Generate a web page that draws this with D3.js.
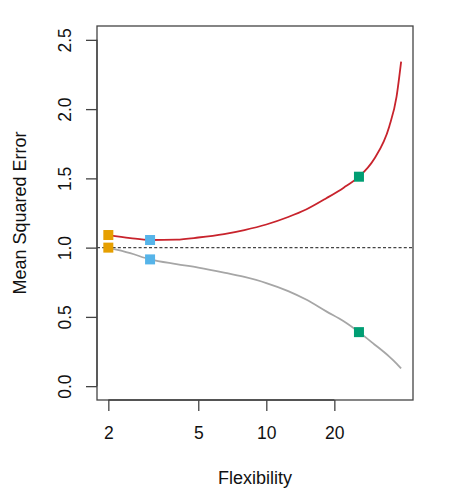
<!DOCTYPE html>
<html>
<head>
<meta charset="utf-8">
<script src="https://cdn.jsdelivr.net/npm/d3@7"></script>
<style>
  body { margin: 0; background: #fff; }
  svg { font-family: 'Liberation Sans', Arial, sans-serif; }
</style>
</head>
<body>
<div id="chart"></div>
<script>
// flexibility grid (log scale on x)
const flex = [2, 2.5, 3.06, 4, 5, 6.5, 8, 10, 12.5, 15, 18.5, 22, 25.7, 30, 35, 37.7, 39.5]
// test MSE (red) and training MSE (grey)
const testMSE = [1.091, 1.069, 1.055, 1.058, 1.073, 1.098, 1.127, 1.167, 1.221, 1.275, 1.358, 1.433, 1.512, 1.64, 1.875, 2.09, 2.343]
const trainMSE = [1.0, 0.96, 0.915, 0.881, 0.856, 0.82, 0.788, 0.744, 0.686, 0.625, 0.538, 0.468, 0.39, 0.303, 0.213, 0.163, 0.128]
// highlighted fits
const markFlex = [2, 3.06, 25.7]
const markTest = [1.091, 1.055, 1.512]
const markTrain = [1.0, 0.915, 0.39]
const markColors = ['#E69F00', '#56B4E9', '#009E73']
const irreducible = 1.0

const xTicks = [2, 5, 10, 20]
const yTicks = [0, 0.5, 1, 1.5, 2, 2.5]

const w = 474
const h = 500
const box = { left: 97, right: 413, top: 26, bottom: 400 }

const svg = d3.select('#chart').append('svg')
  .attr('width', w)
  .attr('height', h)

const x = d3.scaleLog().domain([1.782, 44.57]).range([box.left, box.right])
const y = d3.scaleLinear().domain([-0.1, 2.6]).range([box.bottom, box.top])

const line = d3.line()
  .x(d => x(d[0]))
  .y(d => y(d[1]))
  .curve(d3.curveMonotoneX)

// dashed irreducible error line
svg.append('line')
  .attr('x1', box.left).attr('x2', box.right)
  .attr('y1', y(irreducible)).attr('y2', y(irreducible))
  .attr('stroke', '#444')
  .attr('stroke-width', 1.3)
  .attr('stroke-dasharray', '3,2.2')

svg.append('path')
  .datum(flex.map((f, i) => [f, trainMSE[i]]))
  .attr('d', line)
  .attr('fill', 'none')
  .attr('stroke', '#A6A6A6')
  .attr('stroke-width', 1.8)

svg.append('path')
  .datum(flex.map((f, i) => [f, testMSE[i]]))
  .attr('d', line)
  .attr('fill', 'none')
  .attr('stroke', '#C8232C')
  .attr('stroke-width', 1.8)

const sq = 10
const marks = markFlex.flatMap((f, i) => [
  { f: f, v: markTest[i], c: markColors[i] },
  { f: f, v: markTrain[i], c: markColors[i] }
])
svg.selectAll('rect.mark')
  .data(marks)
  .enter().append('rect')
  .attr('class', 'mark')
  .attr('x', d => x(d.f) - sq / 2)
  .attr('y', d => y(d.v) - sq / 2)
  .attr('width', sq)
  .attr('height', sq)
  .attr('fill', d => d.c)

// box
svg.append('rect')
  .attr('x', box.left).attr('y', box.top)
  .attr('width', box.right - box.left)
  .attr('height', box.bottom - box.top)
  .attr('fill', 'none')
  .attr('stroke', '#444')
  .attr('stroke-width', 1.3)

// y axis
const gy = svg.append('g')
  .attr('transform', 'translate(' + box.left + ',0)')
  .call(d3.axisLeft(y).tickValues(yTicks).tickFormat(d3.format('.1f')).tickSize(11).tickSizeOuter(0))
gy.select('.domain').attr('d', 'M0,' + y(0) + 'V' + y(2.5)).attr('stroke', '#444').attr('stroke-width', 1.3)
gy.selectAll('.tick line').attr('stroke', '#444').attr('stroke-width', 1.3)
gy.selectAll('.tick text')
  .attr('x', null)
  .attr('dy', null)
  .attr('transform', 'translate(-26,0) rotate(-90)')
  .attr('text-anchor', 'middle')
  .attr('font-size', 17.5)
  .attr('font-family', null)
  .attr('fill', '#111')

// x axis
const gx = svg.append('g')
  .attr('transform', 'translate(0,' + box.bottom + ')')
  .call(d3.axisBottom(x).tickValues(xTicks).tickFormat(d3.format('d')).tickSize(11).tickSizeOuter(0))
gx.select('.domain').attr('d', 'M' + x(2) + ',0H' + x(20)).attr('stroke', '#444').attr('stroke-width', 1.3)
gx.selectAll('.tick line').attr('stroke', '#444').attr('stroke-width', 1.3)
gx.selectAll('.tick text')
  .attr('y', 39.3)
  .attr('dy', null)
  .attr('font-size', 17.5)
  .attr('font-family', null)
  .attr('fill', '#111')

svg.append('text')
  .attr('x', (box.left + box.right) / 2)
  .attr('y', 483.5)
  .attr('text-anchor', 'middle')
  .attr('font-size', 18)
  .attr('fill', '#111')
  .text('Flexibility')

svg.append('text')
  .attr('transform', 'translate(26.3,' + (box.top + box.bottom) / 2 + ') rotate(-90)')
  .attr('text-anchor', 'middle')
  .attr('font-size', 18)
  .attr('fill', '#111')
  .text('Mean Squared Error')
</script>
</body>
</html>
